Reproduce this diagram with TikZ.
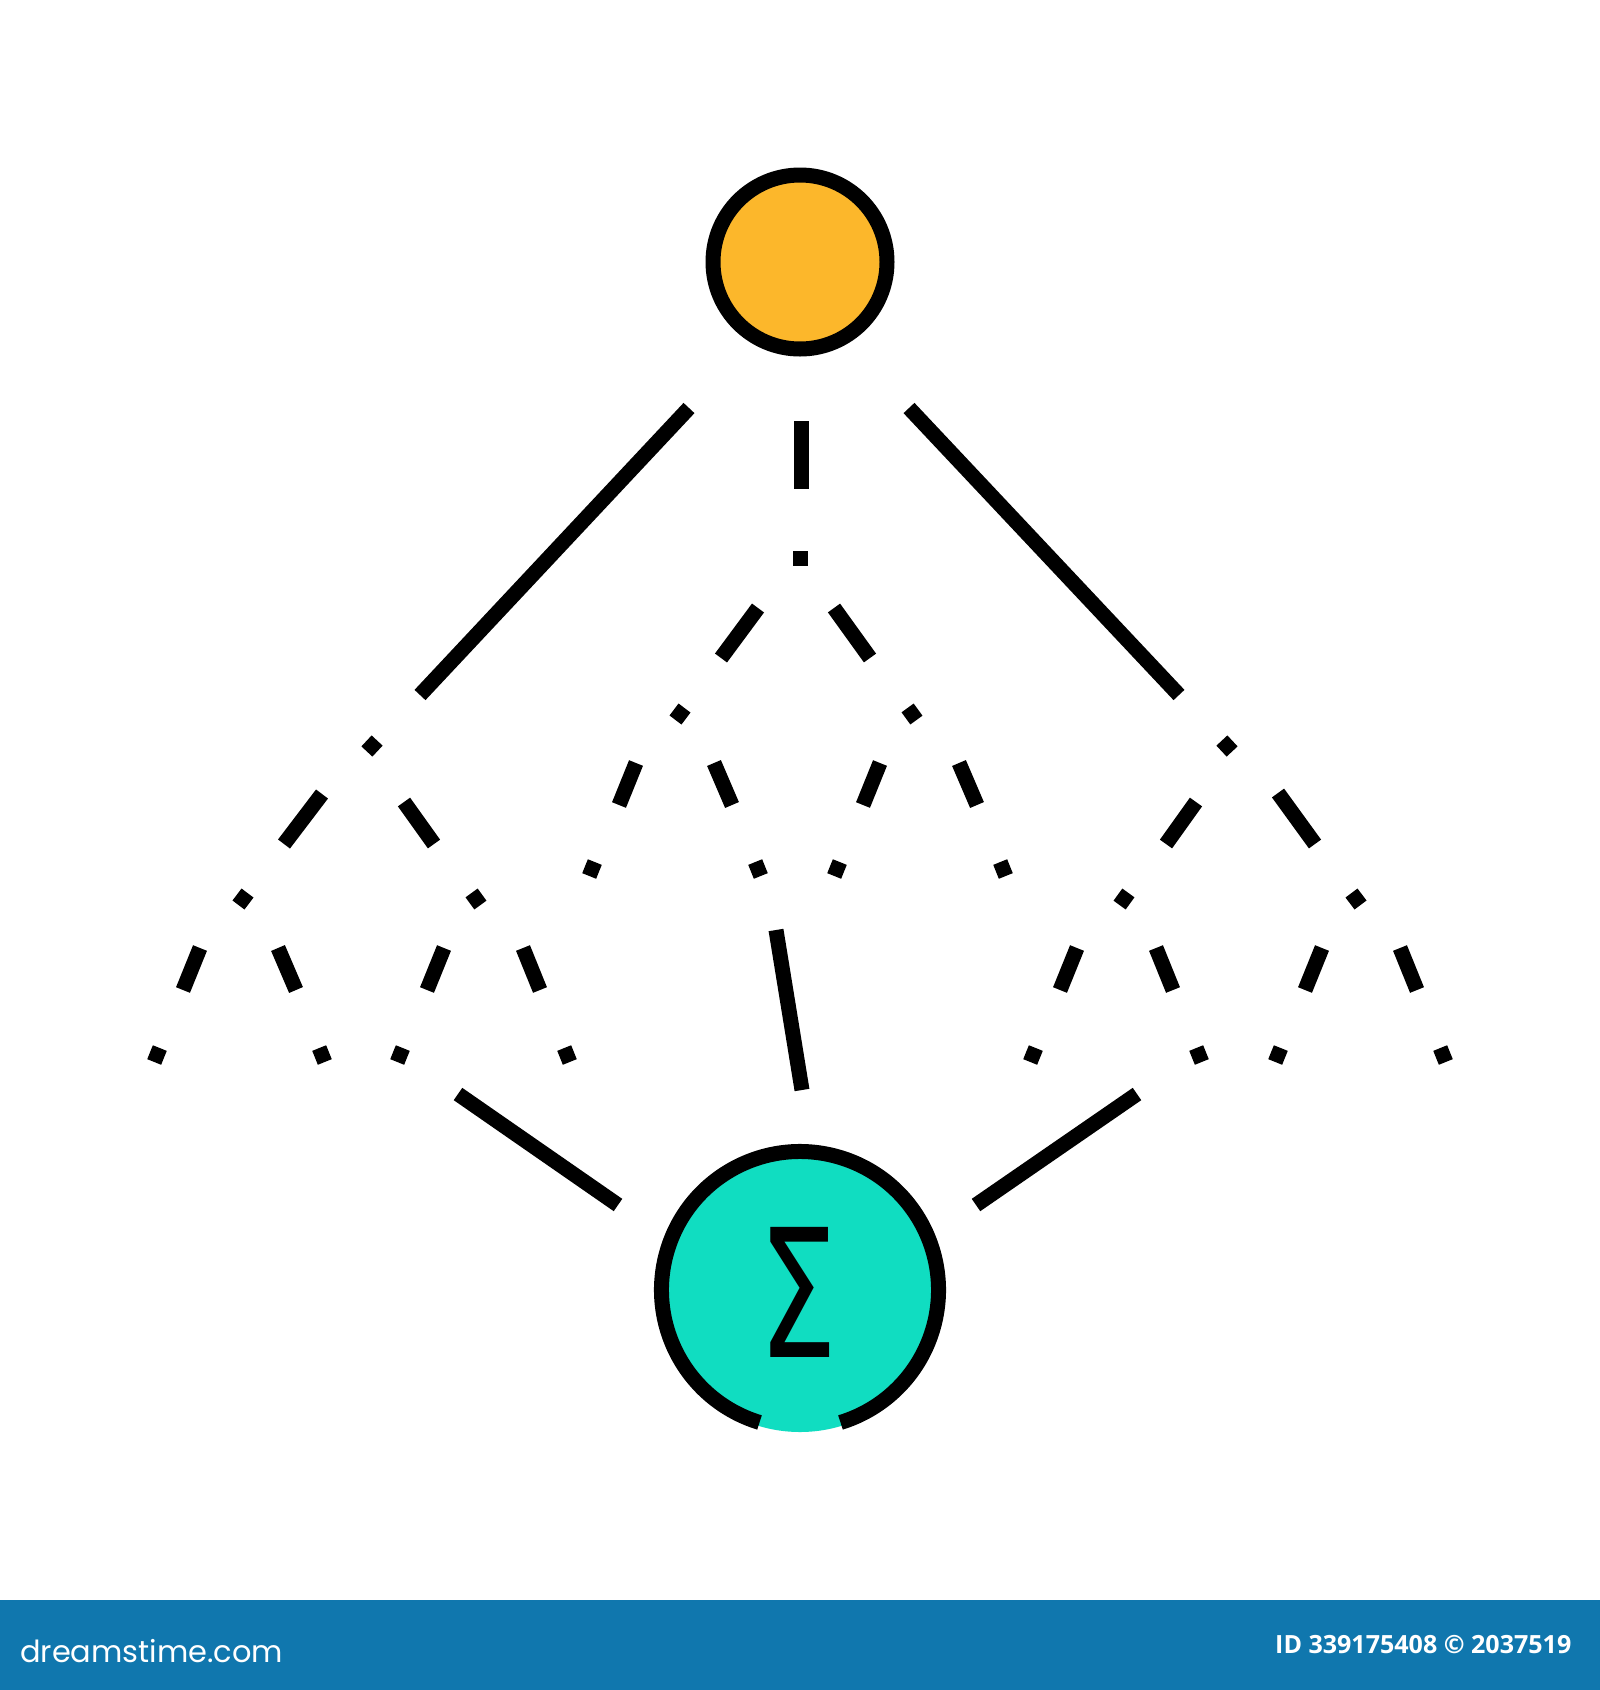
\documentclass[tikz,border=0pt]{standalone}
\usepackage{fontspec}
\setmainfont{Liberation Sans}
\newfontfamily\logofont{Poppins}
\newfontfamily\idfont{Open Sans}
\newfontfamily\sigmafont{DejaVu Sans}
\usetikzlibrary{calc}
\definecolor{rootfill}{RGB}{252,183,43}
\definecolor{sumfill}{RGB}{16,221,193}
\definecolor{bannerblue}{RGB}{16,119,174}
\begin{document}
\begin{tikzpicture}[x=1pt,y=-1pt,
  seg/.style={line width=15pt, line cap=butt, draw=black},
  dotsq/.style={rectangle, fill=black, minimum size=15pt, inner sep=0pt, outer sep=0pt}]
\useasboundingbox (0,0) rectangle (1600,1690);
\fill[white] (0,0) rectangle (1600,1690);

% root
\node[circle, draw=black, line width=15pt, fill=rootfill, minimum size=174pt, inner sep=0pt] (root) at (800,262) {};

% level 1 connectors
\draw[seg] (689,408) -- (420,695);
\draw[seg] (801,421) -- (801,489);
\draw[seg] (909,408) -- (1179,695);
\node[dotsq,rotate=47]  (a)  at (372,746) {};
\node[dotsq]            (b)  at (800,558) {};
\node[dotsq,rotate=-47] (c)  at (1227,746) {};

% level 2 dashes
\draw[seg] (322,794) -- (284,844);
\draw[seg] (404,802) -- (434,844);
\draw[seg] (758,608) -- (721,658);
\draw[seg] (834,608) -- (870,658);
\draw[seg] (1196,802) -- (1166,844);
\draw[seg] (1278,793) -- (1315,844);
\node[dotsq,rotate=53]  (aa) at (243,899) {};
\node[dotsq,rotate=-54] (ab) at (476,899) {};
\node[dotsq,rotate=53]  (ba) at (680,714) {};
\node[dotsq,rotate=-54] (bb) at (912,714) {};
\node[dotsq,rotate=54]  (ca) at (1124,899) {};
\node[dotsq,rotate=-53] (cb) at (1356,899) {};

% level 3 dashes
\draw[seg] (200,948) -- (183,990);
\draw[seg] (278,948) -- (296,990);
\draw[seg] (444,948) -- (427,990);
\draw[seg] (523,948) -- (540,990);
\draw[seg] (636,763) -- (619,805);
\draw[seg] (714,763) -- (732,805);
\draw[seg] (880,763) -- (863,805);
\draw[seg] (959,763) -- (977,805);
\draw[seg] (1077,948) -- (1060,990);
\draw[seg] (1156,948) -- (1173,990);
\draw[seg] (1322,948) -- (1305,990);
\draw[seg] (1400,948) -- (1417,990);
\node[dotsq,rotate=68]  (aaa) at (157,1055) {};
\node[dotsq,rotate=-68] (aab) at (322,1055) {};
\node[dotsq,rotate=68]  (aba) at (400,1055) {};
\node[dotsq,rotate=-68] (abb) at (567,1055) {};
\node[dotsq,rotate=68]  (baa) at (592,869) {};
\node[dotsq,rotate=-68] (bab) at (758,869) {};
\node[dotsq,rotate=68]  (bba) at (837,869) {};
\node[dotsq,rotate=-68] (bbb) at (1003,869) {};
\node[dotsq,rotate=68]  (caa) at (1033,1055) {};
\node[dotsq,rotate=-68] (cab) at (1199,1055) {};
\node[dotsq,rotate=68]  (cba) at (1278,1055) {};
\node[dotsq,rotate=-68] (cbb) at (1443,1055) {};

% lines into the sum
\draw[seg] (776,930) -- (802,1090);
\draw[seg] (458,1094) -- (618,1205);
\draw[seg] (1137,1094) -- (976,1205);

% sum node
\node[circle, fill=sumfill, minimum size=284pt, inner sep=0pt] (sum) at (800,1290) {};
\draw[seg] (sum.center) ++(107:138.5) arc[start angle=107, end angle=433, radius=138.5];
\node[inner sep=0pt] (sig) at (798.5,1292) {\resizebox{79pt}{130pt}{\sigmafont Σ}};

% banner
\fill[bannerblue] (0,1600) rectangle (1600,1690);
\node[anchor=base west, inner sep=0pt, text=white] (logo) at (20,1662) {\resizebox{263pt}{!}{\logofont dreamstime.com}};
\node[anchor=base west, inner sep=0pt, text=white] (id) at (1275,1653) {\resizebox{296pt}{!}{\idfont\bfseries ID 339175408 © 2037519}};
\end{tikzpicture}
\end{document}
